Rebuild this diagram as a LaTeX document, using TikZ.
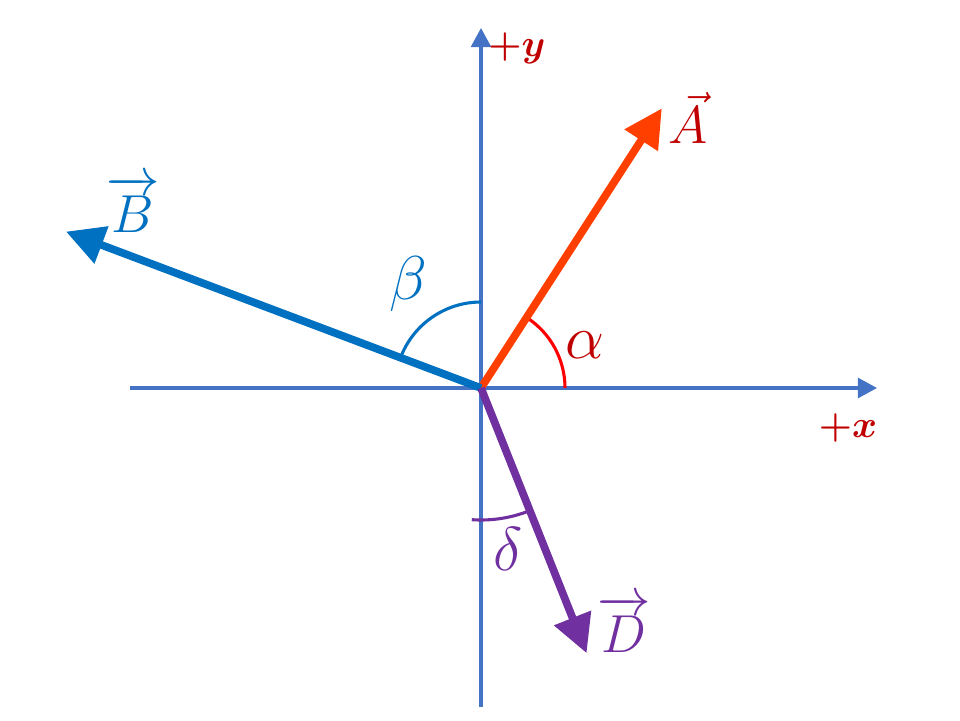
\RequirePackage{fix-cm}
\documentclass[tikz,border=0pt]{standalone}
\usepackage{amsmath}
\usepackage{amssymb}
\usetikzlibrary{arrows.meta}

\definecolor{axisblue}{HTML}{4472C4}
\definecolor{darkred}{HTML}{C00000}
\definecolor{vecorange}{HTML}{FF3F00}
\definecolor{vecblue}{HTML}{0070C0}
\definecolor{vecpurple}{HTML}{7030A0}

\begin{document}
\begin{tikzpicture}
        [
            axis/.style       = {draw=axisblue, line width=2.2pt, -{Triangle[length=0.48cm, width=0.5cm]}},
            vector/.style     = {line width=5.5pt, -{Triangle[length=0.95cm, width=0.95cm]}},
            anglearc/.style   = {line width=2.2pt},
            biglabel/.style   = {font=\fontsize{38}{44}\selectfont, inner sep=0pt},
            greeklabel/.style = {font=\fontsize{44}{50}\selectfont, inner sep=0pt},
            axislabel/.style  = {font=\fontsize{27}{32}\selectfont, inner sep=0pt, text=darkred},
            ]
            \useasboundingbox (-12.025,-8.3) rectangle (11.975,9.7);
            \coordinate (O) at (0,0);
            \coordinate (xstart) at (-8.775,0);
            \coordinate (xend) at (9.9,0);
            \coordinate (ystart) at (0,-7.975);
            \coordinate (yend) at (0,9.0);
            \coordinate (Atip) at (4.52,6.99);
            \coordinate (Btip) at (-10.375,3.91);
            \coordinate (Dtip) at (2.64,-6.63);
            % axes
            \draw [axis] (xstart) -- (xend);
            \draw [axis] (ystart) -- (yend);
            \node [axislabel] (xlabel) at (9.175,-1.0) {$\boldsymbol{+x}$};
            \node [axislabel] (ylabel) at (0.9,8.5) {$\boldsymbol{+y}$};
            % angle arcs
            \draw [anglearc, red] (O) ++(0:2.1) arc (0:57.1:2.1);
            \draw [anglearc, vecblue] (O) ++(90:2.15) arc (90:159.4:2.15);
            \draw [anglearc, vecpurple] (O) ++(266:3.3) arc (266:291.7:3.3);
            % vectors
            \draw [vector, vecorange] (O) -- (Atip);
            \draw [vector, vecblue] (O) -- (Btip);
            \draw [vector, vecpurple] (O) -- (Dtip);
            \node [biglabel, text=darkred] (Alabel) at (5.175,6.75) {$\vec{A}$};
            \node [biglabel, text=vecblue] (Blabel) at (-8.7,4.6) {$\overrightarrow{B}$};
            \node [biglabel, text=vecpurple] (Dlabel) at (3.575,-5.9) {$\overrightarrow{D}$};
            \node [greeklabel, text=darkred] (alphalabel) at (2.6,1.075) {$\alpha$};
            \node [greeklabel, text=vecblue] (betalabel) at (-1.825,2.6) {$\beta$};
            \node [greeklabel, text=vecpurple] (deltalabel) at (0.675,-4.025) {$\delta$};
        \end{tikzpicture}
\end{document}
